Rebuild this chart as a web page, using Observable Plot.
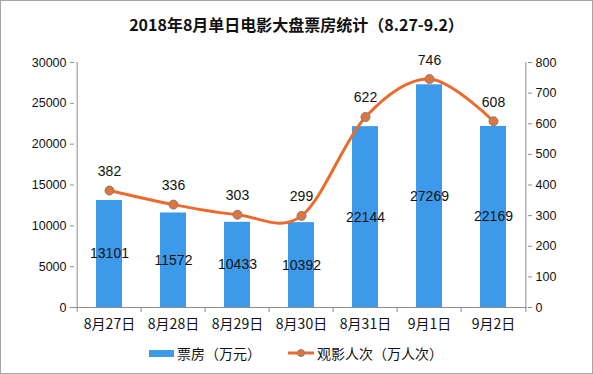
<!DOCTYPE html>
<html><head><meta charset="utf-8">
<script src="https://cdn.jsdelivr.net/npm/d3@7"></script>
<script src="https://cdn.jsdelivr.net/npm/@observablehq/plot@0.6"></script>
<style>
body{margin:0;background:#fff;}
#wrap{position:relative;width:593px;height:374px;overflow:hidden;font-family:"Noto Sans CJK SC","Liberation Sans",sans-serif;background:#fff;}
#border{position:absolute;left:0;top:0;width:593px;height:374px;box-sizing:border-box;border:1px solid #a6a6a6;pointer-events:none;}
#title{position:absolute;left:0;top:12px;width:100%;text-align:center;font-size:16px;font-weight:bold;color:#111;line-height:24px;}
#chart{position:absolute;left:0;top:44px;}
#legend{position:absolute;left:149px;top:343px;height:20px;display:flex;align-items:center;font-size:14px;color:#111;}
.sw{display:inline-block;}
</style></head>
<body>
<div id="wrap">
  <div id="title">2018年8月单日电影大盘票房统计（8.27-9.2）</div>
  <div id="chart"></div>
  <div id="legend">
    <span class="sw" style="width:25px;height:7px;background:#3d9aea;margin-right:3px;"></span><span>票房（万元）</span>
    <svg width="27" height="12" style="margin-left:27px;margin-right:2px;"><line x1="0" y1="6" x2="26" y2="6" stroke="#ed6a2c" stroke-width="3"/><circle cx="13" cy="6" r="3.5" fill="#e0743c" stroke="#7f7f7f"/></svg><span>观影人次（万人次）</span>
  </div>
  <div id="border"></div>
</div>
<script>
const dates = ["8月27日","8月28日","8月29日","8月30日","8月31日","9月1日","9月2日"];
const boxOffice = [13101, 11572, 10433, 10392, 22144, 27269, 22169];
const viewers = [382, 336, 303, 299, 622, 746, 608];
const leftTicks = [0, 5000, 10000, 15000, 20000, 25000, 30000];
const rightTicks = [0, 100, 200, 300, 400, 500, 600, 700, 800];

const ratio = 30000 / 800;
const data = dates.map((d, i) => ({date: d, box: boxOffice[i], view: viewers[i], viewY: viewers[i] * ratio}));

const W = 593, H = 296, ml = 74, mr = 66, mt = 18, mb = 33;
const step = (W - ml - mr) / dates.length;
const axisColor = "#8c8c8c";
const font = "'Liberation Sans','Noto Sans CJK SC',sans-serif";

const chart = Plot.plot({
  width: W, height: H,
  marginLeft: ml, marginRight: mr, marginTop: mt, marginBottom: mb,
  style: {fontFamily: font, fontSize: "12.5px", color: "#111", background: "transparent"},
  x: {domain: dates, paddingInner: 0.6, paddingOuter: 0.3, label: null},
  y: {domain: [0, 30000], label: null},
  marks: [
    Plot.barY(data, {x: "date", y: "box", fill: "#3d9aea"}),
    // axis lines
    Plot.ruleY([0], {stroke: axisColor}),
    Plot.ruleX([dates[0]], {x: d => d, y1: 0, y2: 30000, dx: -step / 2, stroke: axisColor}),
    Plot.ruleX([dates[dates.length - 1]], {x: d => d, y1: 0, y2: 30000, dx: step / 2, stroke: axisColor}),
    // x tick marks at band boundaries
    Plot.ruleX(dates, {x: d => d, y1: 0, y2: 0, insetBottom: -5, dx: -step / 2, stroke: axisColor}),
    Plot.ruleX([dates[dates.length - 1]], {x: d => d, y1: 0, y2: 0, insetBottom: -5, dx: step / 2, stroke: axisColor}),
    Plot.axisX({tickSize: 0, tickPadding: 12, fontSize: 14, fontFamily: "'Noto Sans CJK SC',sans-serif"}),
    Plot.axisY({anchor: "left", ticks: leftTicks, tickFormat: d => String(d), tickSize: 4, tickPadding: 4, stroke: axisColor}),
    Plot.axisY({anchor: "right", ticks: rightTicks.map(v => v * ratio), tickFormat: d => String(Math.round(d / ratio)), tickSize: 4, tickPadding: 4, stroke: axisColor}),
    // bar value labels
    Plot.text(data, {x: "date", y: d => d.box / 2, text: d => String(d.box), fontSize: 14, fill: "#111"}),
    // line
    Plot.line(data, {x: "date", y: "viewY", stroke: "#ed6a2c", strokeWidth: 3, curve: "cardinal"}),
    Plot.dot(data, {x: "date", y: "viewY", r: 4.5, fill: "#e0743c", stroke: "#7f7f7f", strokeWidth: 1}),
    Plot.text(data, {x: "date", y: "viewY", text: d => String(d.view), dy: -19, fontSize: 14, fill: "#111"})
  ]
});
document.getElementById("chart").appendChild(chart);
</script>
</body></html>
